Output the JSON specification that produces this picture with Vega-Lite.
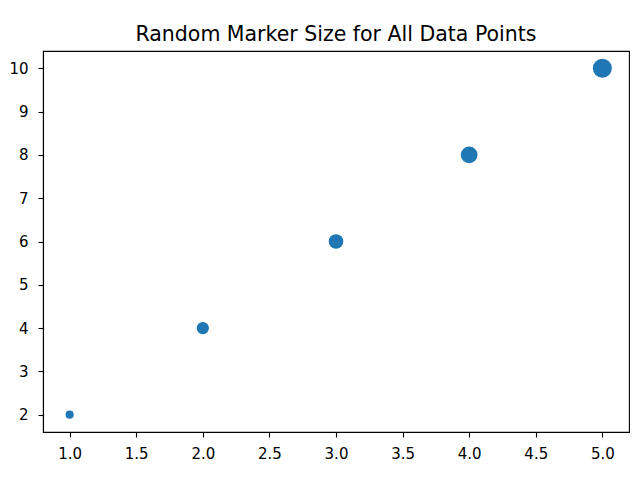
{
  "$schema": "https://vega.github.io/schema/vega-lite/v6.json",
  "autosize": {"type": "none"},
  "padding": {"left": 43, "top": 51, "right": 15, "bottom": 45},
  "width": 586,
  "height": 381,
  "title": {"text": "Random Marker Size for All Data Points", "font": "DejaVu Sans", "fontSize": 20.5, "fontWeight": "normal", "color": "#000000", "offset": 6, "anchor": "middle"},
  "config": {
    "view": {"stroke": "#000000", "strokeWidth": 1.1},
    "axis": {"domainColor": "#000000", "domainWidth": 1.1, "tickColor": "#000000", "tickWidth": 1.1, "tickSize": 5, "labelFont": "DejaVu Sans", "labelFontSize": 15, "labelColor": "#000000", "grid": false, "title": null}
  },
  "data": {"values": [
    {"x": 1, "y": 2, "s": 40},
    {"x": 2, "y": 4, "s": 95},
    {"x": 3, "y": 6, "s": 135},
    {"x": 4, "y": 8, "s": 180},
    {"x": 5, "y": 10, "s": 230}
  ]},
  "mark": {"type": "circle", "color": "#1f77b4", "opacity": 1},
  "encoding": {
    "x": {"field": "x", "type": "quantitative", "scale": {"domain": [0.8, 5.2], "nice": false, "zero": false}, "axis": {"values": [1, 1.5, 2, 2.5, 3, 3.5, 4, 4.5, 5], "format": ".1f", "labelPadding": 9}},
    "y": {"field": "y", "type": "quantitative", "scale": {"domain": [1.6, 10.4], "nice": false, "zero": false}, "axis": {"values": [2, 3, 4, 5, 6, 7, 8, 9, 10], "format": "d", "labelPadding": 10}},
    "size": {"field": "s", "type": "quantitative", "scale": {"type": "identity"}, "legend": null}
  }
}
